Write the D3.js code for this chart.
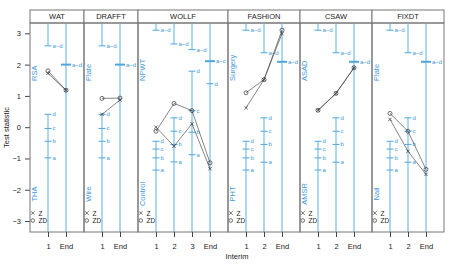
<!DOCTYPE html>
<html>
<head>
<meta charset="utf-8">
<script src="https://cdn.jsdelivr.net/npm/d3@7"></script>
<style>
  body { margin: 0; background: #fff; }
  text { font-family: "Liberation Sans", Arial, sans-serif; }
</style>
</head>
<body>
<div id="chart"></div>
<script>
// data
var trials = ["WAT", "DRAFFT", "WOLLF", "FASHION", "CSAW", "FIXDT"];
var stageLabels = [["1", "End"], ["1", "End"], ["1", "2", "3", "End"], ["1", "2", "End"], ["1", "2", "End"], ["1", "2", "End"]];
var topArms = ["RSA", "Plate", "NPWT", "Surgery", "ASAD", "Plate"];
var bottomArms = ["THA", "Wire", "Control", "PHT", "AMSR", "Nail"];
var zStat = [[1.72, 1.18], [0.41, 0.87], [0.0, -0.61, 0.11, -1.33], [0.62, 1.52, 2.99], [0.54, 1.08, 1.90], [0.25, -0.77, -1.51]];
var zdStat = [[1.80, 1.18], [0.92, 0.93], [-0.13, 0.76, 0.53, -1.14], [1.10, 1.52, 3.10], [0.54, 1.08, 1.90], [0.44, -0.13, -1.35]];
// efficacy bound (options a-d) at each interim before the end
var effBounds = [[2.6], [2.6], [3.1, 2.66, 2.48], [3.1, 2.38], [3.1, 2.38], [3.1, 2.38]];
// futility bounds for options d, c, b, a at each interim before the end
var futLabels = ["d", "c", "b", "a"];
var futBounds = [
  [[0.41, -0.04, -0.45, -0.98]],
  [[0.41, -0.04, -0.45, -0.98]],
  [[-0.45, -0.70, -0.98, -1.37], [0.30, -0.13, -0.55, -1.11], [1.79, 0.53, -0.16, -0.88]],
  [[-0.45, -0.70, -0.98, -1.37], [0.30, -0.13, -0.55, -1.12]],
  [[-0.45, -0.70, -0.98, -1.37], [0.30, -0.13, -0.55, -1.12]],
  [[-0.45, -0.70, -0.98, -1.37], [0.30, -0.13, -0.55, -1.12]]
];
// critical values at the final analysis
var endBounds = [[2.0], [2.0], [2.11, 1.39], [2.09], [2.09], [2.09]];
var endLabels = [["a–d"], ["a–d"], ["a–c", "d"], ["a–d"], ["a–d"], ["a–d"]];
var yTicks = [-3, -2, -1, 0, 1, 2, 3];

var w = 450;
var h = 264;
var padding = { top: 23, right: 6, bottom: 32, left: 30 };
var stripTop = 10;
var lineCol = "#a3d4f0";
var tickCol = "#4ea6df";
var textCol = "#3f9ad8";

var svg = d3.select("#chart").append("svg").attr("width", w).attr("height", h);

// each panel gets one slot per analysis plus one spare
var slots = stageLabels.map(function (s) { return s.length + 1; });
var starts = [];
var acc = 0;
slots.forEach(function (n) { starts.push(acc); acc += n; });

var xUnit = d3.scaleLinear().domain([0, acc]).range([padding.left, w - padding.right]);
var y = d3.scaleLinear().domain([-3.35, 3.33]).range([h - padding.bottom, padding.top]);
var yTop = y.range()[1], yBot = y.range()[0];

var times = d3.symbol().type(d3.symbolTimes).size(9);

// y axis
svg.append("g")
  .attr("transform", "translate(" + padding.left + ",0)")
  .call(d3.axisLeft(y).tickValues(yTicks).tickSize(5).tickPadding(4).tickFormat(d3.format("d")))
  .call(function (g) { g.select(".domain").remove(); })
  .call(function (g) {
    g.selectAll("line").attr("stroke", "#444");
    g.selectAll("text").attr("font-size", 7.5).attr("fill", "#222");
  });

svg.append("text")
  .attr("transform", "translate(9," + ((yTop + yBot) / 2) + ") rotate(-90)")
  .attr("text-anchor", "middle")
  .attr("font-size", 7.5)
  .attr("fill", "#222")
  .text("Test statistic");

svg.append("text")
  .attr("x", (xUnit.range()[0] + xUnit.range()[1]) / 2)
  .attr("y", 258.5)
  .attr("text-anchor", "middle")
  .attr("font-size", 7.5)
  .attr("fill", "#222")
  .text("Interim");

trials.forEach(function (name, p) {
  var n = stageLabels[p].length;
  var left = xUnit(starts[p]);
  var right = xUnit(starts[p] + slots[p]);
  var x = function (i) { return xUnit(starts[p] + i + 1); };
  var g = svg.append("g");

  // strip header
  g.append("rect")
    .attr("x", left).attr("y", stripTop)
    .attr("width", right - left).attr("height", yTop - stripTop)
    .attr("fill", "#fff").attr("stroke", "#777").attr("stroke-width", 1);
  g.append("text")
    .attr("x", (left + right) / 2).attr("y", (stripTop + yTop) / 2 + 2.6)
    .attr("text-anchor", "middle").attr("font-size", 7.5).attr("fill", "#222")
    .text(name);

  // boundaries at interims
  for (var i = 0; i < n - 1; i++) {
    var xi = x(i);
    var eff = effBounds[p][i];
    var fut = futBounds[p][i];
    g.append("line")
      .attr("x1", xi).attr("x2", xi).attr("y1", yTop).attr("y2", y(eff))
      .attr("stroke", lineCol).attr("stroke-width", 1.8);
    g.append("line")
      .attr("x1", xi).attr("x2", xi).attr("y1", y(fut[0])).attr("y2", yBot)
      .attr("stroke", lineCol).attr("stroke-width", 1.8);
    g.append("line")
      .attr("x1", xi - 3.5).attr("x2", xi + 3.5).attr("y1", y(eff)).attr("y2", y(eff))
      .attr("stroke", tickCol).attr("stroke-width", 1);
    g.append("text")
      .attr("x", xi + 4.5).attr("y", y(eff) + 2)
      .attr("font-size", 6).attr("fill", textCol).text("a–d");
    fut.forEach(function (v, k) {
      g.append("line")
        .attr("x1", xi - 3.5).attr("x2", xi + 3.5).attr("y1", y(v)).attr("y2", y(v))
        .attr("stroke", tickCol).attr("stroke-width", 1);
      g.append("text")
        .attr("x", xi + 4.5).attr("y", y(v) + 2)
        .attr("font-size", 6).attr("fill", textCol).text(futLabels[k]);
    });
  }

  // final analysis
  var xe = x(n - 1);
  g.append("line")
    .attr("x1", xe).attr("x2", xe).attr("y1", yTop).attr("y2", yBot)
    .attr("stroke", lineCol).attr("stroke-width", 1.8);
  endBounds[p].forEach(function (v, k) {
    g.append("line")
      .attr("x1", xe - (k == 0 ? 5 : 3.5)).attr("x2", xe + (k == 0 ? 5 : 3.5))
      .attr("y1", y(v)).attr("y2", y(v))
      .attr("stroke", tickCol).attr("stroke-width", k == 0 ? 2 : 1);
    g.append("text")
      .attr("x", xe + (k == 0 ? 6 : 4.5)).attr("y", y(v) + 2)
      .attr("font-size", 6).attr("fill", textCol).text(endLabels[p][k]);
  });

  // arm labels
  g.append("text")
    .attr("transform", "translate(" + (left + 6.5) + ",81) rotate(-90)")
    .attr("font-size", 7.5).attr("fill", textCol).text(topArms[p]);
  g.append("text")
    .attr("transform", "translate(" + (left + 6.5) + ",194) rotate(-90)")
    .attr("text-anchor", "middle")
    .attr("font-size", 7.5).attr("fill", textCol).text(bottomArms[p]);

  // test statistic paths
  var line = d3.line().x(function (d, i) { return x(i); }).y(function (d) { return y(d); });
  [zStat[p], zdStat[p]].forEach(function (vals) {
    g.append("path").attr("d", line(vals))
      .attr("fill", "none").attr("stroke", "#333").attr("stroke-width", 0.6);
  });
  g.selectAll(".z").data(zStat[p]).enter().append("path")
    .attr("class", "z")
    .attr("transform", function (d, i) { return "translate(" + x(i) + "," + y(d) + ")"; })
    .attr("d", times)
    .attr("fill", "none").attr("stroke", "#333").attr("stroke-width", 0.7);
  g.selectAll(".zd").data(zdStat[p]).enter().append("circle")
    .attr("class", "zd")
    .attr("cx", function (d, i) { return x(i); })
    .attr("cy", function (d) { return y(d); })
    .attr("r", 2)
    .attr("fill", "none").attr("stroke", "#333").attr("stroke-width", 0.7);

  // legend
  g.append("path")
    .attr("transform", "translate(" + (left + 2.8) + ",213)")
    .attr("d", times).attr("fill", "none").attr("stroke", "#333").attr("stroke-width", 0.7);
  g.append("circle")
    .attr("cx", left + 2.8).attr("cy", 220.5).attr("r", 1.8)
    .attr("fill", "none").attr("stroke", "#333").attr("stroke-width", 0.7);
  g.append("text").attr("x", left + 8.5).attr("y", 215.5)
    .attr("font-size", 6.5).attr("fill", "#222").text("Z");
  g.append("text").attr("x", left + 8.5).attr("y", 223)
    .attr("font-size", 6.5).attr("fill", "#222").text("ZD");

  // x axis for this panel
  var xs = d3.scaleLinear().domain([0, slots[p]]).range([left, right]);
  svg.append("g")
    .attr("transform", "translate(0," + yBot + ")")
    .call(d3.axisBottom(xs).tickValues(d3.range(1, n + 1)).tickSize(5).tickPadding(7)
      .tickFormat(function (d) { return stageLabels[p][d - 1]; }))
    .call(function (ax) { ax.select(".domain").remove(); })
    .call(function (ax) {
      ax.selectAll("line").attr("stroke", "#444");
      ax.selectAll("text").attr("font-size", 7.5).attr("fill", "#222");
    });

  // panel frame
  g.append("rect")
    .attr("x", left).attr("y", yTop)
    .attr("width", right - left).attr("height", yBot - yTop)
    .attr("fill", "none").attr("stroke", "#777").attr("stroke-width", 1);
});
</script>
</body>
</html>
